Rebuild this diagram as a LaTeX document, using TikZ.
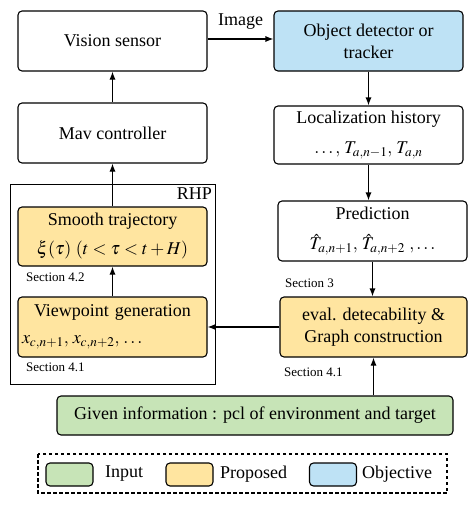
\documentclass[tikz,border=0pt]{standalone}
\usepackage{mathptmx}
\usepackage{fontspec}
\setmainfont{Liberation Serif}
\usetikzlibrary{arrows.meta}

\definecolor{inputgreen}{RGB}{199,228,183}
\definecolor{propyellow}{RGB}{255,229,160}
\definecolor{objblue}{RGB}{190,226,245}

\tikzset{
  blk/.style={draw, rounded corners=4pt, line width=1.1pt, minimum width=189pt, minimum height=60pt,
    align=center, inner sep=2pt, font=\fontsize{18}{22}\selectfont},
  swatch/.style={draw, rounded corners=4pt, line width=1.1pt, minimum width=47pt, minimum height=23pt},
  sec/.style={font=\fontsize{13}{15}\selectfont, inner sep=0pt, anchor=west},
  lbl/.style={font=\fontsize{18}{22}\selectfont, inner sep=0pt},
  flow/.style={-{Latex[length=8pt,width=6pt]}, line width=1.1pt},
}

\begin{document}
\begin{tikzpicture}[x=1pt,y=1pt,yscale=-1,xscale=1]
  \useasboundingbox (0,0) rectangle (474,506);

  % RHP frame
  \draw [line width=0.9pt] (10,184) rectangle (215,384);
  \node [lbl, anchor=north east] (rhp) at (212,188) {RHP};

  % Left column
  \node [blk] (vision) at (112.5,41) {Vision sensor};
  \node [blk] (mav) at (112.5,133) {Mav controller};
  \node [blk, fill=propyellow, minimum height=59pt] (smooth) at (112.5,236.5)
    {Smooth trajectory\\[7pt] $\xi(\tau)\ (t<\tau<t+H)$};
  \node [blk, fill=propyellow, align=left, text width=181pt] (view) at (112.5,327)
    {\makebox[181pt]{Viewpoint generation}\\[5pt] $x_{c,n+1},\, x_{c,n+2},\, \ldots$};

  % Right column
  \node [blk, fill=objblue] (detector) at (368.5,41) {Object detector or\\tracker};
  \node [blk, minimum height=58pt] (loc) at (368.5,135)
    {Localization history\\[8pt] $\ldots,\, T_{a,n-1},\, T_{a,n}$};
  \node [blk] (pred) at (372.5,231)
    {Prediction\\[8pt] $\hat{T}_{a,n+1},\, \hat{T}_{a,n+2}\ ,\ldots$};
  \node [blk, fill=propyellow, minimum width=187pt] (eval) at (373.5,327)
    {eval. detecability \&\\Graph construction};

  % Input
  \node [blk, fill=inputgreen, minimum width=396pt, minimum height=39pt] (given) at (255,415.5)
    {Given information : pcl of environment and target};

  % Section labels
  \node [sec] (sec42) at (26,277) {Section 4.2};
  \node [sec] (sec41a) at (26,367) {Section 4.1};
  \node [sec] (sec3) at (285,283) {Section 3};
  \node [sec] (sec41b) at (284,372) {Section 4.1};

  % Connectors
  \draw [flow] (vision.east |- 0,39) -- (detector.west |- 0,39)
    node [lbl, midway, above=9pt] (image) {Image};
  \draw [flow] (detector.south) -- (loc.north);
  \draw [flow] (mav.north) -- (vision.south);
  \draw [flow] (loc.south) -- (loc.south |- pred.north);
  \draw [flow] (smooth.north) -- (mav.south);
  \draw [flow] (view.north) -- (smooth.south);
  \draw [flow] (pred.south) -- (pred.south |- eval.north);
  \draw [flow] (eval.west) -- (view.east);
  \draw [flow] (given.north -| eval.south) -- (eval.south);

  % Legend
  \draw [line width=1.1pt, dash pattern={on 3.5pt off 2.5pt}] (38,454) rectangle (447,493);
  \node [swatch, fill=inputgreen] (legin) at (69.5,474.5) {};
  \node [lbl, anchor=west] (legintxt) at (105,474) {Input};
  \node [swatch, fill=propyellow] (legprop) at (189.5,474.5) {};
  \node [lbl, anchor=west] (legproptxt) at (220,474) {Proposed};
  \node [swatch, fill=objblue] (legobj) at (333,474.5) {};
  \node [lbl, anchor=west] (legobjtxt) at (362,474) {Objective};
\end{tikzpicture}
\end{document}
